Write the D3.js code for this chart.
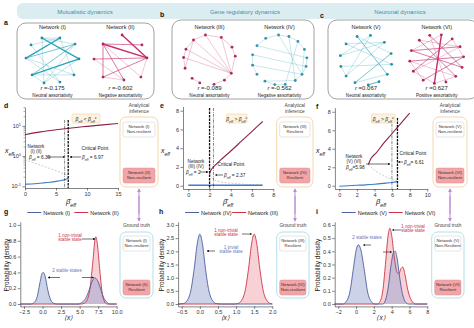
<!DOCTYPE html>
<html><head><meta charset="utf-8">
<script src="https://cdn.jsdelivr.net/npm/d3@7"></script>
<style>
body{margin:0;background:#fff;}
svg{font-family:"Liberation Sans",Arial,sans-serif;}
.axis path,.axis line{stroke:#333;stroke-width:0.6;}
.axis text{font-size:5.5px;fill:#333;font-family:"Liberation Sans",Arial,sans-serif;}
</style></head><body>
<script>
// ---- data ----
const sectionTitles = ["Mutualistic dynamics", "Gene regulatory dynamics", "Neuronal dynamics"];
const netNames = ["Network (I)", "Network (II)", "Network (III)", "Network (IV)", "Network (V)", "Network (VI)"];
const netR = ["=-0.175", "=-0.602", "=-0.089", "=-0.562", "=0.067", "=0.627"];
const netAssort = ["Neutral assortativity", "Negative assortativity", "Neutral assortativity",
  "Negative assortativity", "Neutral assortativity", "Positive assortativity"];

// bipartite-like layouts (unit coords) and edges [a, b, weight]
const netINodes = [[-0.81,-0.69],[-0.4,-1],[0.28,-1],[0.85,-0.73],[-1,-0.11],[1,-0.07],[-0.77,0.64],[-0.32,1],[0.28,0.96],[0.81,0.64]];
const netIEdges = [[1,5,2],[2,4,2],[6,5,2],[3,4,1],[6,3,1],[1,2,0],[0,2,0],[1,3,0],[4,9,0],[4,8,0],[7,5,0],[7,3,0],[6,9,0],[1,7,0],[2,9,0],[0,8,0],[6,7,0]];
const netIINodes = [[0.06,-1],[-0.66,-0.6],[0.81,-0.56],[-1,0.07],[1,0.02],[-0.66,0.87],[0.13,1],[0.77,0.87]];
const netIIEdges = [[1,4,2],[0,4,2],[1,2,1],[1,5,1],[1,6,1],[3,4,1],[5,4,1],[7,4,0],[1,7,0],[3,6,0],[5,6,0]];
// circular layouts: node angles (deg) and edges
const netIIIAngles = [-99,-63,-30,-8,33,55,80,112,132,160,185,205,232];
const netIIIEdges = [[0,1,0],[1,2,0],[2,3,0],[3,4,0],[4,5,0],[5,6,0],[7,8,0],[9,10,0],[10,11,0],[11,12,0],[12,0,0],[4,12,0],[4,11,0],[4,10,0],[4,0,0],[1,4,0],[9,12,0]];
const netIVAngles = [-92,-70,-48,-25,-5,15,35,55,78,100,122,145,168,192,215,240];
const netIVEdges = [[0,1,0],[1,2,0],[2,3,0],[4,5,0],[5,6,0],[6,7,0],[8,9,0],[9,10,0],[11,12,0],[12,13,0],[14,15,0],[15,0,0],[0,6,0],[2,8,0],[13,5,0],[12,6,0],[14,4,0],[1,7,0],[3,6,0],[10,7,0]];
const netVAngles = [-110,-80,-45,-15,10,35,60,85,115,140,165,190,220];
const netVEdges = [[0,5,1],[1,9,0],[2,11,0],[3,8,1],[4,12,0],[0,3,0],[10,4,0],[6,7,1],[11,1,0],[2,9,0],[5,8,0],[12,2,0],[9,10,0],[7,6,0]];
const netVIAngles = [-105,-80,-55,-30,-5,20,45,70,95,120,150,175,200,230];
const netVIEdges = [[1,8,2],[0,5,1],[2,10,1],[3,12,1],[4,11,1],[13,6,1],[9,4,1],[12,5,1],[0,7,0],[2,4,0],[10,3,0],[11,6,0],[13,3,0],[1,12,0],[8,10,0],[9,11,0],[6,8,0]];

// panel d (log y)
const dUpper = [[0,5.1],[2.5,6.3],[5,7.4],[7.5,8.5],[10,9.6],[12.5,10.8],[15,12]];
const dLower = [[0,0.117],[1,0.12],[2,0.124],[3,0.13],[4,0.137],[5,0.146],[6,0.158],[6.6,0.17],[6.97,0.19]];
const dUnstable = [[0,0.75],[1,0.64],[2,0.54],[3,0.46],[4,0.39],[5,0.33],[6,0.27],[6.97,0.22]];
// panel e
const eUpper = [[2.0,1.3],[2.1,1.6],[2.37,2.0],[3,2.7],[4,3.7],[5,4.75],[6,5.8],[7,6.85]];
const eLower = [[0,0.05],[7,0.05]];
const eUnstable = [[2.05,1.2],[2.4,0.65],[3,0.42],[4,0.27],[5,0.18],[6,0.12],[7,0.08]];
// panel f
const fUpper = [[3.3,2.3],[3.6,2.95],[4.2,3.55],[5,4.55],[6,5.65],[7,6.75],[8,7.85]];
const fLower = [[0,-0.05],[1,0],[2,0.05],[3,0.1],[4,0.17],[5,0.26],[6,0.36],[6.6,0.45]];
const fUnstable = [[3.3,2.3],[4,1.7],[5,1.1],[6,0.7],[6.6,0.5]];
// densities
const gBlue = [[-3,0],[-1.6,0],[-1.1,0.02],[-0.7,0.1],[-0.35,0.27],[-0.05,0.39],[0.1,0.4],[0.35,0.35],[0.7,0.18],[1.1,0.05],[1.5,0.01],[1.9,0],[4.8,0],[5.3,0.02],[5.8,0.07],[6.3,0.18],[6.7,0.29],[7.05,0.33],[7.4,0.3],[7.8,0.2],[8.2,0.09],[8.6,0.03],[9.1,0],[10,0]];
const gRed = [[-3,0],[5.2,0],[5.6,0.01],[6.0,0.05],[6.4,0.2],[6.8,0.55],[7.1,0.83],[7.2,0.85],[7.4,0.75],[7.7,0.45],[8.0,0.17],[8.3,0.04],[8.7,0],[10,0]];
const hBlue = [[-0.6,0],[-0.45,0.02],[-0.35,0.13],[-0.25,0.5],[-0.15,1.4],[-0.07,2.3],[0,2.65],[0.07,2.3],[0.15,1.4],[0.25,0.5],[0.35,0.13],[0.45,0.02],[0.6,0],[2,0]];
const hRed = [[-0.6,0],[0.95,0],[1.05,0.02],[1.15,0.13],[1.25,0.5],[1.35,1.4],[1.43,2.3],[1.5,2.65],[1.57,2.3],[1.65,1.4],[1.75,0.5],[1.85,0.13],[1.95,0.02],[2.0,0]];
const iBlue = [[-2.4,0],[-1.5,0],[-1.1,0.02],[-0.7,0.09],[-0.3,0.27],[0.05,0.42],[0.25,0.45],[0.5,0.42],[0.9,0.27],[1.3,0.09],[1.7,0.02],[2.1,0],[3.0,0],[3.3,0.03],[3.6,0.12],[3.9,0.28],[4.2,0.39],[4.4,0.4],[4.6,0.35],[4.9,0.2],[5.2,0.08],[5.5,0.02],[5.9,0],[8,0]];
const iRed = [[-2.4,0],[2.4,0],[2.7,0.02],[3.0,0.1],[3.3,0.3],[3.6,0.52],[3.8,0.575],[4.0,0.52],[4.3,0.35],[4.6,0.24],[4.8,0.23],[5.05,0.27],[5.25,0.28],[5.5,0.22],[5.8,0.11],[6.2,0.03],[6.7,0],[8,0]];

const teal = "#2ba4b9", mag = "#c42f6c";
const cUp = "#8e2245", cLow = "#3d7cc9", cGrey = "#b9b9b9";
const bLine = "#4d5f9c", bFill = "#9aa6cf", rLine = "#cc3349", rFill = "#f09aa6";

const svg = d3.select("body").append("svg").attr("width", 474).attr("height", 328);
const defs = svg.append("defs");
function marker(id, color, size) {
  defs.append("marker").attr("id", id).attr("viewBox", "0 0 10 10").attr("refX", 8).attr("refY", 5)
    .attr("markerWidth", size).attr("markerHeight", size).attr("orient", "auto-start-reverse")
    .append("path").attr("d", "M0,0L10,5L0,10z").attr("fill", color);
}
marker("ak", "#111", 4); marker("ap", "#b98bd3", 4);

function text(g, x, y, s, o = {}) {
  const t = g.append("text").attr("x", x).attr("y", y).text(s)
    .attr("font-size", o.size || 5).attr("fill", o.fill || "#222")
    .attr("text-anchor", o.anchor || "middle");
  if (o.italic) t.attr("font-style", "italic");
  if (o.bold) t.attr("font-weight", "bold");
  return t;
}
function rich(g, x, y, parts, o = {}) {
  const sz = o.size || 5;
  const t = g.append("text").attr("x", x).attr("y", y).attr("font-size", sz)
    .attr("fill", o.fill || "#222").attr("text-anchor", o.anchor || "start");
  parts.forEach(p => {
    const s = t.append("tspan").text(p[0]);
    if (p[1] === "sub" || p[1] === "sup") s.attr("baseline-shift", p[1] === "sub" ? "sub" : "super").attr("font-size", sz * 0.7);
    if (p[2]) s.attr("font-style", "italic");
  });
  return t;
}

// ---- banner & panel letters ----
svg.append("rect").attr("x", 17).attr("y", 3).attr("width", 470).attr("height", 16).attr("rx", 6).attr("fill", "#dcedf2");
[85, 245, 400].forEach((x, i) => text(svg, x, 13.5, sectionTitles[i], {size: 6, fill: "#3d8ea6"}));
[["a",4,25],["b",160,17],["c",320,18],["d",4,108],["e",160,108],["f",316,109],["g",4,214],["h",159,214],["i",316,214]]
  .forEach(l => text(svg, l[1], l[2], l[0], {size: 7, bold: true, anchor: "start", fill: "#111"}));

// ---- networks ----
[[17,23,137,76],[172,20,142,79],[328,20,150,79]].forEach(b =>
  svg.append("rect").attr("x", b[0]).attr("y", b[1]).attr("width", b[2]).attr("height", b[3]).attr("rx", 9)
    .attr("fill", "none").attr("stroke", "#8a8a8a").attr("stroke-width", 0.8));

function drawNet(cx, cy, rx, ry, nodes, edges, color) {
  const sx = d3.scaleLinear().domain([-1, 1]).range([cx - rx, cx + rx]);
  const sy = d3.scaleLinear().domain([-1, 1]).range([cy - ry, cy + ry]);
  const g = svg.append("g");
  g.selectAll("line").data(edges).join("line")
    .attr("x1", e => sx(nodes[e[0]][0])).attr("y1", e => sy(nodes[e[0]][1]))
    .attr("x2", e => sx(nodes[e[1]][0])).attr("y2", e => sy(nodes[e[1]][1]))
    .attr("stroke", color).attr("stroke-width", e => [0.5, 0.8, 1.4][e[2]])
    .attr("stroke-opacity", e => [0.55, 0.8, 1][e[2]]);
  g.selectAll("circle").data(nodes).join("circle")
    .attr("cx", d => sx(d[0])).attr("cy", d => sy(d[1])).attr("r", 1.4).attr("fill", d3.color(color).darker(0.4));
}
const ang = d3.scaleLinear().domain([0, 360]).range([0, 2 * Math.PI]);
const ring = a => a.map(d => [Math.cos(ang(d)), Math.sin(ang(d))]);
const netSpecs = [
  [52.5, 60.5, 26.5, 22.5, netINodes, netIEdges, teal],
  [120.5, 57.5, 26.5, 22.5, netIINodes, netIIEdges, mag],
  [209.5, 59.7, 26, 25, ring(netIIIAngles), netIIIEdges, mag],
  [279.5, 60, 27.5, 25, ring(netIVAngles), netIVEdges, "#3ea6c4"],
  [366, 60, 26, 25, ring(netVAngles), netVEdges, teal],
  [436.7, 59, 27, 24.5, ring(netVIAngles), netVIEdges, mag]
];
netSpecs.forEach((s, i) => {
  drawNet(...s);
  text(svg, s[0], 29, netNames[i], {size: 5.5});
  rich(svg, s[0], 90, [["r", "", true], [" " + netR[i]]], {size: 6, anchor: "middle"});
  text(svg, s[0], 96.5, netAssort[i], {size: 4.6});
});

// ---- helpers for plots ----
function axes(g, x, y, xt, yt, xf, yf) {
  g.append("g").attr("class", "axis").attr("transform", `translate(0,${y.range()[0]})`)
    .call(d3.axisBottom(x).tickValues(xt).tickSize(2.5).tickSizeOuter(0).tickPadding(1.5).tickFormat(xf || null));
  g.append("g").attr("class", "axis").attr("transform", `translate(${x.range()[0]},0)`)
    .call(d3.axisLeft(y).tickValues(yt).tickSize(2.5).tickSizeOuter(0).tickPadding(1.5).tickFormat(yf || null));
}
function path(g, data, x, y, color, w, dash) {
  const p = g.append("path").datum(data).attr("fill", "none").attr("stroke", color).attr("stroke-width", w)
    .attr("d", d3.line().x(d => x(d[0])).y(d => y(d[1])).curve(d3.curveMonotoneX));
  if (dash) p.attr("stroke-dasharray", dash);
}
function vline(g, x, v, y0, y1, w, dash) {
  g.append("line").attr("x1", x(v)).attr("x2", x(v)).attr("y1", y0).attr("y2", y1)
    .attr("stroke", "#111").attr("stroke-width", w).attr("stroke-dasharray", dash);
}
function arrow(g, x1, y1, x2, y2, m, w) {
  g.append("line").attr("x1", x1).attr("y1", y1).attr("x2", x2).attr("y2", y2)
    .attr("stroke", m === "ap" ? "#b98bd3" : "#111").attr("stroke-width", w || 0.6).attr("marker-end", `url(#${m})`);
}
function beta(g, x, y, tail, o = {}) {
  return rich(g, x, y, [["β", "", true], ["eff", "sub", true], [tail]], o);
}
function condBox(g, x0, x1, sign) {
  g.append("rect").attr("x", x0).attr("y", 114).attr("width", x1 - x0).attr("height", 9).attr("rx", 1)
    .attr("fill", "#fdf3e2").attr("stroke", "#f0c98d").attr("stroke-width", 0.5);
  rich(g, (x0 + x1) / 2, 120.5, [["β", "", true], ["eff", "sub", true], [" " + sign + " "], ["β", "", true], ["eff", "sub", true], ["c", "sup", true]], {size: 5, anchor: "middle"});
}
function sideBox(g, x0, x1, y0, y1, title, border, top, bot, tyTop, tyBot) {
  title.forEach((t, i) => text(g, (x0 + x1) / 2, y0 - 10 + i * 5.5 - (title.length === 1 ? -4.5 : 0), t, {size: 4.8, fill: "#444"}));
  g.append("rect").attr("x", x0).attr("y", y0).attr("width", x1 - x0).attr("height", y1 - y0).attr("rx", 6)
    .attr("fill", "#fff").attr("stroke", border).attr("stroke-width", 0.9);
  g.append("rect").attr("x", x0 + 3).attr("y", tyTop).attr("width", x1 - x0 - 6).attr("height", 15).attr("rx", 2)
    .attr("fill", "#fff").attr("stroke", "#c9c9c9").attr("stroke-width", 0.5);
  g.append("rect").attr("x", x0 + 3).attr("y", tyBot).attr("width", x1 - x0 - 6).attr("height", 15).attr("rx", 2)
    .attr("fill", "#f2a4a6").attr("stroke", "#e08a8c").attr("stroke-width", 0.5);
  top.forEach((t, i) => text(g, (x0 + x1) / 2, tyTop + 6 + i * 5, t, {size: 4.3, fill: "#333"}));
  bot.forEach((t, i) => text(g, (x0 + x1) / 2, tyBot + 6 + i * 5, t, {size: 4.3, fill: "#333"}));
}

// ---- panel d ----
const gd = svg.append("g");
const xD = d3.scaleLinear().domain([0, 15]).range([25, 118]);
const yD = d3.scaleLog().domain([0.088, 42]).range([188, 107]);
axes(gd, xD, yD, [0, 5, 10, 15], [0.1, 1, 10], null, () => "");
const minor = [2,3,4,5,6,7,8,9].map(v => v / 10).concat([2,3,4,5,6,7,8,9], [20, 30, 40]);
gd.selectAll(".mn").data(minor).join("line").attr("x1", 25).attr("x2", 23.5)
  .attr("y1", d => yD(d)).attr("y2", d => yD(d)).attr("stroke", "#333").attr("stroke-width", 0.4);
[[0.1, "-1"], [1, "0"], [10, "1"]].forEach(t =>
  rich(gd, 21, yD(t[0]) + 2, [["10"], [t[1], "sup"]], {size: 5.5, anchor: "end", fill: "#333"}));
path(gd, dUnstable, xD, yD, cGrey, 0.7, "2,1.5");
path(gd, dUpper, xD, yD, cUp, 1.1);
path(gd, dLower, xD, yD, cLow, 1.1);
vline(gd, xD, 6.39, 120, 188, 0.5, "3,1,0.8,1");
vline(gd, xD, 6.97, 120, 188, 1.3, "2.5,1");
condBox(gd, 72, 100, "<");
text(gd, 36, 148, "Network", {size: 4.6});
text(gd, 36, 152.5, "(I) (II)", {size: 4.6});
beta(gd, 29, 158.5, " = 6.39", {size: 4.8});
arrow(gd, 47, 157, 64.5, 157, "ak");
text(gd, 95, 150, "Critical Point", {size: 4.8});
arrow(gd, 81, 157, 70, 157, "ak");
beta(gd, 82, 158.5, " = 6.97", {size: 4.8});
rich(gd, 71, 204, [["β̄", "", true], ["eff", "sub", true]], {size: 7.5, anchor: "middle"});
rich(gd, 5, 153, [["x", "", true], ["eff", "sub", true]], {size: 7, anchor: "start"});
sideBox(gd, 120, 158, 117, 187, ["Analytical", "inference"], "#f2d3a0", ["Network (I)", "Non-resilient"], ["Network (II)", "Non-resilient"], 122, 168);
arrow(gd, 139, 196, 139, 221, "ap", 1); arrow(gd, 139, 214, 139, 189, "ap", 1);

// ---- panel e ----
const ge = svg.append("g");
const xE = d3.scaleLinear().domain([-0.5, 8]).range([183, 273.3]);
const yE = d3.scaleLinear().domain([-0.35, 8.45]).range([189, 106.5]);
axes(ge, xE, yE, [0, 2, 4, 6, 8], [0, 2, 4, 6, 8]);
path(ge, eUnstable, xE, yE, cGrey, 0.7, "2,1.5");
path(ge, eLower, xE, yE, cLow, 1.4);
path(ge, eUpper, xE, yE, cUp, 1.1);
vline(ge, xE, 2, 108, 189, 1.3, "2.5,1");
vline(ge, xE, 2.37, 108, 189, 0.5, "3,1,0.8,1");
condBox(ge, 226.5, 247, ">");
text(ge, 196, 163, "Network", {size: 4.6});
text(ge, 196, 167.5, "(III) (IV)", {size: 4.6});
beta(ge, 186, 173.5, " = 2", {size: 4.8});
arrow(ge, 200, 172, 208, 172, "ak");
text(ge, 231, 166, "Critical Point", {size: 4.8});
arrow(ge, 223, 175, 215.5, 175, "ak");
beta(ge, 224, 176.5, " = 2.37", {size: 4.8});
rich(ge, 228, 204, [["β̄", "", true], ["eff", "sub", true]], {size: 7.5, anchor: "middle"});
rich(ge, 161, 153, [["x", "", true], ["eff", "sub", true]], {size: 7, anchor: "start"});
sideBox(ge, 276.7, 313, 117, 187, ["Analytical", "inference"], "#f2d3a0", ["Network (III)", "Resilient"], ["Network (IV)", "Resilient"], 122, 168);
arrow(ge, 295, 196, 295, 221, "ap", 1); arrow(ge, 295, 214, 295, 189, "ap", 1);

// ---- panel f ----
const gf = svg.append("g");
const xF = d3.scaleLinear().domain([-0.5, 10]).range([334.9, 427.3]);
const yF = d3.scaleLinear().domain([-0.35, 8.45]).range([189, 107.6]);
axes(gf, xF, yF, [0, 2, 4, 6, 8, 10], [0, 2, 4, 6, 8]);
path(gf, fUnstable, xF, yF, cGrey, 0.7, "2,1.5");
path(gf, fLower, xF, yF, cLow, 1.1);
path(gf, fUpper, xF, yF, cUp, 1.1);
vline(gf, xF, 5.98, 118, 189, 0.5, "3,1,0.8,1");
vline(gf, xF, 6.61, 118, 189, 1.3, "2.5,1");
condBox(gf, 371.5, 395, ">");
text(gf, 354, 158, "Network", {size: 4.6});
text(gf, 354, 162.5, "(V) (VI)", {size: 4.6});
beta(gf, 346, 168.5, "=5.98", {size: 4.8});
arrow(gf, 366, 164, 390, 164, "ak");
text(gf, 413, 155, "Critical Point", {size: 4.8});
arrow(gf, 403, 162, 398.5, 162, "ak");
beta(gf, 404, 163.5, "= 6.61", {size: 4.8});
rich(gf, 381, 204, [["β", "", true], ["eff", "sub", true]], {size: 7.5, anchor: "middle"});
rich(gf, 316, 153, [["x", "", true], ["eff", "sub", true]], {size: 7, anchor: "start"});
sideBox(gf, 433, 467, 117, 187, ["Analytical", "inference"], "#f2d3a0", ["Network (V)", "Non-resilient"], ["Network (VI)", "Non-resilient"], 122, 168);
arrow(gf, 450, 196, 450, 221, "ap", 1); arrow(gf, 450, 214, 450, 189, "ap", 1);

// ---- density panels ----
function density(x, y, xt, yt, xf, yf, blue, red, names, ylx) {
  const g = svg.append("g");
  const area = d3.area().x(d => x(d[0])).y0(y(0)).y1(d => y(d[1])).curve(d3.curveMonotoneX);
  g.append("path").datum(red).attr("d", area).attr("fill", rFill).attr("fill-opacity", 0.45);
  g.append("path").datum(blue).attr("d", area).attr("fill", bFill).attr("fill-opacity", 0.5);
  path(g, red, x, y, rLine, 0.9);
  path(g, blue, x, y, bLine, 0.9);
  axes(g, x, y, xt, yt, d3.format(xf), d3.format(yf));
  const x0 = x.range()[0], x1 = x.range()[1];
  // legend
  const lx = [x0 + 7, x0 + 54];
  [[bLine, names[0]], [rLine, names[1]]].forEach((l, i) => {
    g.append("line").attr("x1", lx[i]).attr("x2", lx[i] + 14).attr("y1", 212.5).attr("y2", 212.5).attr("stroke", l[0]).attr("stroke-width", 1);
    text(g, lx[i] + 16, 214.5, l[1], {size: 5.5, anchor: "start"});
  });
  text(g, (x0 + x1) / 2, 320, "⟨x⟩", {size: 6.5, italic: true});
  text(g, 0, 0, "Probability density", {size: 6.5}).attr("transform", `translate(${ylx},265) rotate(-90)`);
  return g;
}
const xG = d3.scaleLinear().domain([-3, 10]).range([20.3, 116.7]);
const yG = d3.scaleLinear().domain([-0.03, 1.04]).range([306.4, 221.8]);
const gg = density(xG, yG, [-2.5, 0, 2.5, 5, 7.5, 10], [0, 0.2, 0.4, 0.6, 0.8, 1.0], ".1f", ".1f", gBlue, gRed, ["Network (I)", "Network (II)"], 9);
text(gg, 70, 236.5, "1 non-trivial", {size: 4.6, fill: rLine});
text(gg, 70, 241, "stable state", {size: 4.6, fill: rLine});
arrow(gg, 82, 239, 95, 239, "ak");
text(gg, 67, 272, "2 stable states", {size: 4.6, fill: "#6a7ab8"});
arrow(gg, 60, 277.5, 48, 277.5, "ak");
arrow(gg, 82, 277.5, 93.5, 277.5, "ak");
sideBox(gg, 120, 153, 232, 298, ["Ground truth"], "#a9dbe9", ["Network (I)", "Non-resilient"], ["Network (II)", "Resilient"], 236, 280);

const xH = d3.scaleLinear().domain([-0.6, 2.0]).range([178.1, 272.3]);
const yH = d3.scaleLinear().domain([-0.09, 3.12]).range([306.4, 221.8]);
const gh = density(xH, yH, [-0.5, 0, 0.5, 1, 1.5, 2], [0, 0.5, 1, 1.5, 2, 2.5, 3], ".1f", ".1f", hBlue, hRed, ["Network (IV)", "Network (III)"], 164);
text(gh, 226, 231.5, "1 non-trivial", {size: 4.6, fill: rLine});
text(gh, 226, 236, "stable state", {size: 4.6, fill: rLine});
arrow(gh, 242, 234, 251.5, 234, "ak");
text(gh, 231, 248.5, "1 trivial", {size: 4.6, fill: "#6a7ab8"});
text(gh, 231, 253, "stable state", {size: 4.6, fill: "#6a7ab8"});
arrow(gh, 215, 251, 207, 251, "ak");
sideBox(gh, 276.7, 309, 232, 298, ["Ground truth"], "#a9dbe9", ["Network (III)", "Resilient"], ["Network (IV)", "Non-resilient"], 236, 280);

const xI = d3.scaleLinear().domain([-2.4, 8]).range([334.7, 427.3]);
const yI = d3.scaleLinear().domain([-0.018, 0.624]).range([306.4, 221.8]);
const gi = density(xI, yI, [-2, 0, 2, 4, 6, 8], [0, 0.1, 0.2, 0.3, 0.4, 0.5, 0.6], "d", ".1f", iBlue, iRed, ["Network (V)", "Network (VI)"], 320);
text(gi, 413, 227.5, "1 non-trivial", {size: 4.6, fill: rLine});
text(gi, 413, 232, "stable state", {size: 4.6, fill: rLine});
arrow(gi, 401, 230, 392.5, 230, "ak");
text(gi, 367, 238.5, "2 stable states", {size: 4.6, fill: "#6a7ab8"});
arrow(gi, 371, 245, 363.5, 245, "ak");
arrow(gi, 383, 252, 391.5, 252, "ak");
sideBox(gi, 431.7, 464, 232, 298, ["Ground truth"], "#a9dbe9", ["Network (V)", "Non-Resilient"], ["Network (VI)", "Resilient"], 236, 280);
</script></body></html>
